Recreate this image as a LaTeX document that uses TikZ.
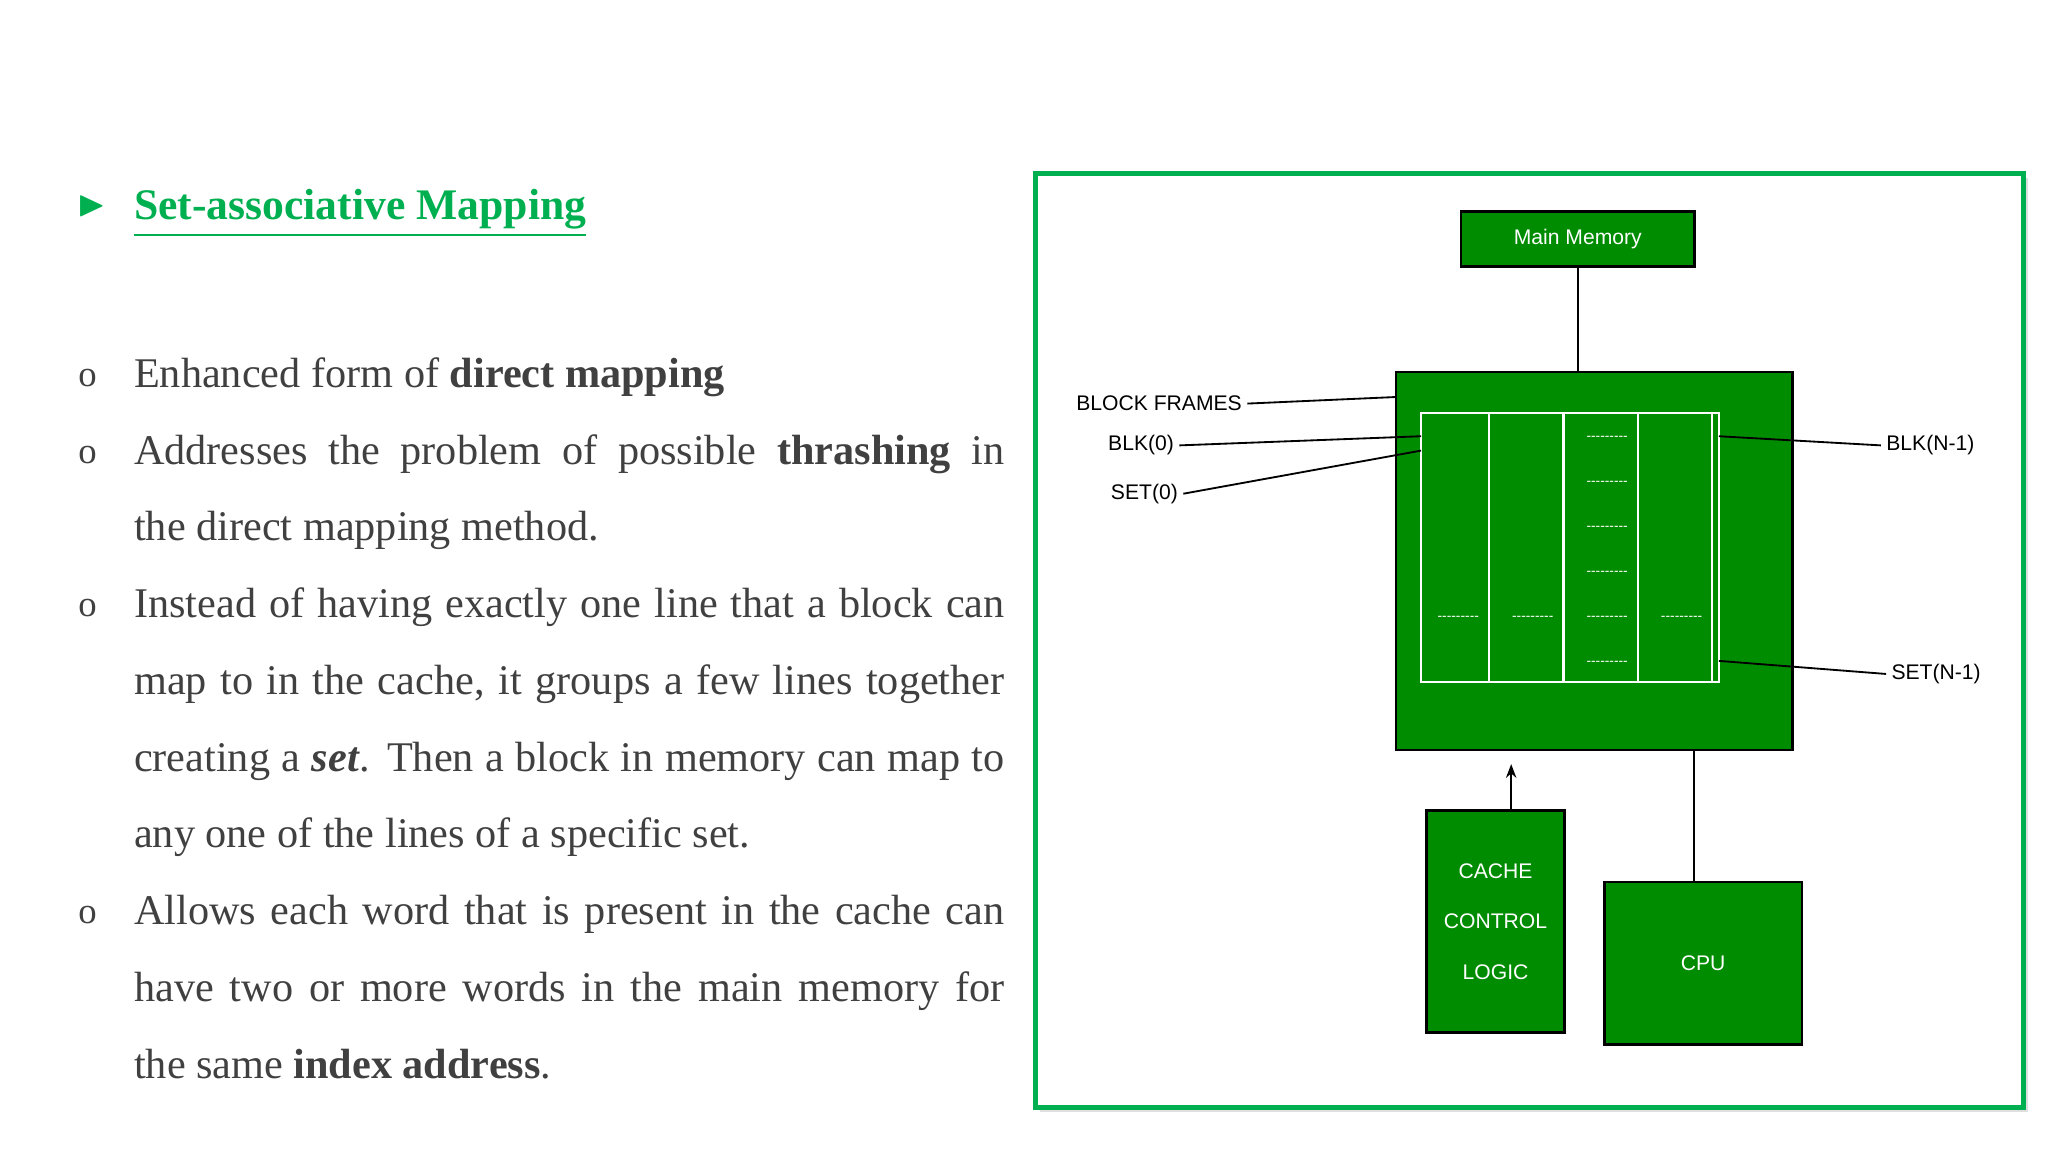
\documentclass[tikz,border=0pt]{standalone}
\usepackage{fontspec}
\setmainfont{Liberation Serif}
\newfontfamily\diafont{Liberation Sans}
\usepackage{amssymb}
\usetikzlibrary{arrows.meta,positioning,calc,shadows}
\definecolor{slidegreen}{RGB}{0,176,80}
\definecolor{boxgreen}{RGB}{0,140,0}
\definecolor{bodytext}{RGB}{64,64,64}
\tikzset{
  body/.style={anchor=base west,inner sep=0pt,font=\fontsize{9.2}{10}\selectfont,text=bodytext},
  bul/.style={anchor=base,inner sep=0pt,font=\fontsize{8}{9}\selectfont,text=bodytext},
  gbox/.style={draw=black,fill=boxgreen,line width=0.6pt,text=white,font=\diafont\fontsize{4.6}{5}\selectfont,align=center},
  lab/.style={inner sep=1pt,font=\diafont\fontsize{4.6}{5}\selectfont},
  dashtxt/.style={text=white,font=\diafont\fontsize{3}{3}\selectfont,inner sep=0pt}
}
\newcommand{\jline}[1]{\makebox[189.5pt][s]{#1}}
\newcommand{\dashes}{-{}-{}-{}-{}-{}-{}-{}-{}-}
\begin{document}
\begin{tikzpicture}[x=0.01cm,y=-0.01cm]
  \useasboundingbox (0,0) rectangle (1568,882);
  % heading
  \node[anchor=base,text=slidegreen,font=\fontsize{8}{9}\selectfont] (arr) at (70,165) {$\blacktriangleright$};
  \node[anchor=base west,inner sep=0pt,text=slidegreen,font=\bfseries\fontsize{9.5}{10}\selectfont] (title) at (102,168) {\underline{Set-associative Mapping}};

  % bullet points
  \foreach \y in {296,355,472,707} \node[bul] at (67,\y) {o};
  \node[body] (l1) at (102,297) {Enhanced form of \textbf{direct mapping}};
  \node[body] (l2) at (102,356) {\jline{Addresses the problem of possible \textbf{thrashing} in}};
  \node[body] (l3) at (102,414) {the direct mapping method.};
  \node[body] (l4) at (102,473) {\jline{Instead of having exactly one line that a block can}};
  \node[body] (l5) at (102,532) {\jline{map to in the cache, it groups a few lines together}};
  \node[body] (l6) at (102,591) {\jline{creating a \textbf{\textit{set}}. Then a block in memory can map to}};
  \node[body] (l7) at (102,649) {any one of the lines of a specific set.};
  \node[body] (l8) at (102,708) {\jline{Allows each word that is present in the cache can}};
  \node[body] (l9) at (102,767) {\jline{have two or more words in the main memory for}};
  \node[body] (l10) at (102,826) {the same \textbf{index address}.};

  % picture frame
  \draw[slidegreen,line width=1.1pt,drop shadow={opacity=0.25,shadow xshift=1pt,shadow yshift=-1pt},fill=white] (793,133) rectangle (1549,848);

  % boxes
  \node[gbox,minimum width=50.9pt,minimum height=11.9pt] (mem) at (1208,183) {Main Memory};
  \node[gbox,minimum width=86.3pt,minimum height=82.3pt] (cache) at (1220.5,429.5) {};
  \node[gbox,minimum width=30pt,minimum height=48.4pt] (ccl) at (1145,705.5) {};
  \node[text=white,font=\diafont\fontsize{4.6}{5}\selectfont] at (1145,667) {CACHE};
  \node[text=white,font=\diafont\fontsize{4.6}{5}\selectfont] at (1145,705) {CONTROL};
  \node[text=white,font=\diafont\fontsize{4.6}{5}\selectfont] at (1145,744) {LOGIC};
  \node[gbox,minimum width=43pt,minimum height=35.4pt] (cpu) at (1304,737.5) {CPU};

  % grid of block frames
  \draw[white,line width=0.5pt] (1088,316) grid[xstep=57,ystep=34.33] (1316,522);
  \draw[white,line width=0.5pt] (1088,316) rectangle (1316,522);
  \foreach \r in {0,...,5} \node[dashtxt] at (1230.5,{336+34.33*\r}) {\dashes};
  \foreach \c in {0,1,3} \node[dashtxt] at ({1116.5+57*\c},{336+34.33*4}) {\dashes};
  \coordinate (g0) at (1088,334);
  \coordinate (g1) at (1088,345);
  \coordinate (gb) at (1316,334);
  \coordinate (gs) at (1316,506);

  % labels
  \node[lab,anchor=east] (bf) at (955,309) {BLOCK FRAMES};
  \node[lab,anchor=east] (b0) at (903,341) {BLK(0)};
  \node[lab,anchor=east] (s0) at (906,378) {SET(0)};
  \node[lab,anchor=west] (bn) at (1440,341) {BLK(N-1)};
  \node[lab,anchor=west] (sn) at (1444,516) {SET(N-1)};
  \draw[line width=0.4pt] (bf.east) -- (1068,304);
  \draw[line width=0.4pt] (b0.east) -- (g0);
  \draw[line width=0.4pt] (s0.east) -- (g1);
  \draw[line width=0.4pt] (gb) -- (bn.west);
  \draw[line width=0.4pt] (gs) -- (sn.west);

  % connectors
  \draw[line width=0.4pt] (mem.south) -- (cache.north -| mem.south);
  \draw[line width=0.4pt,-{Stealth[length=3pt]}] (ccl.north -| 1157,0) -- (1157,585);
  \draw[line width=0.4pt] (cpu.north -| 1297,0) -- (cache.south -| 1297,0);
\end{tikzpicture}
\end{document}
